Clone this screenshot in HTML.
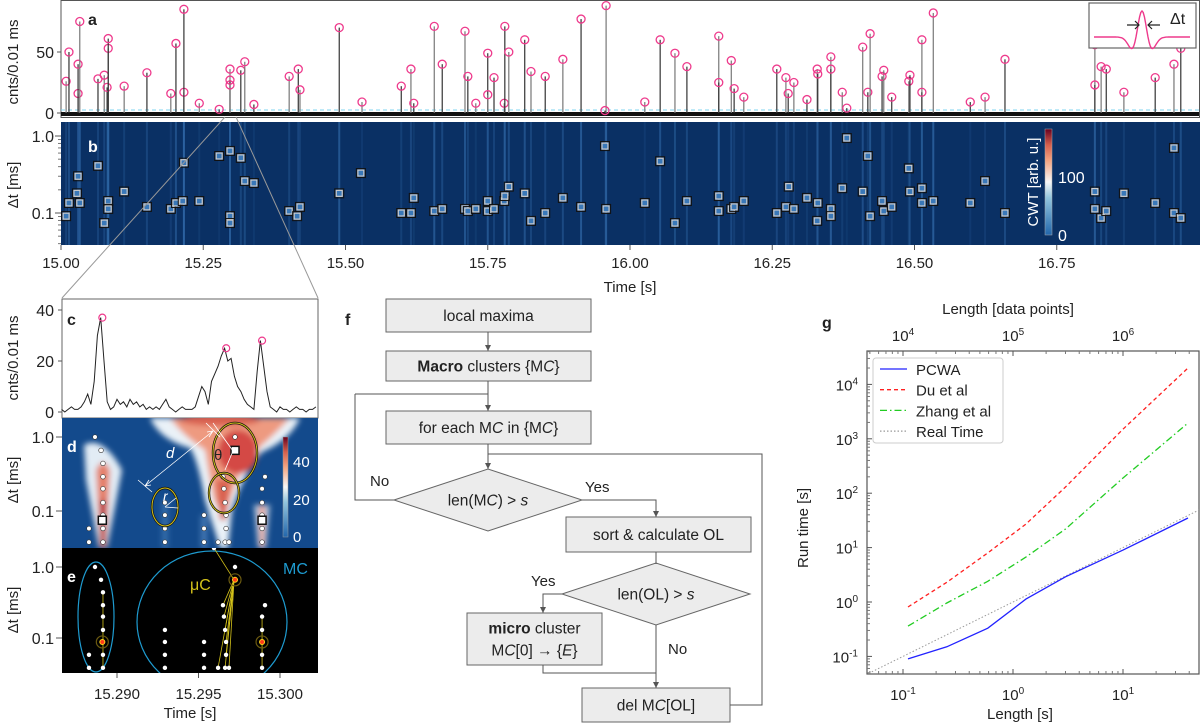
<!DOCTYPE html>
<html><head><meta charset="utf-8"><style>
html,body{margin:0;padding:0;background:#fff;}
svg{display:block;font-family:"Liberation Sans",sans-serif;}
</style></head><body>
<svg id="fig" width="1200" height="723" viewBox="0 0 1200 723" xmlns="http://www.w3.org/2000/svg">
<defs>
<linearGradient id="cwtbar" x1="0" y1="1" x2="0" y2="0">
<stop offset="0" stop-color="#2166ac"/><stop offset="0.35" stop-color="#92c5de"/><stop offset="0.5" stop-color="#f7f7f7"/><stop offset="0.7" stop-color="#f4a582"/><stop offset="0.85" stop-color="#d6604d"/><stop offset="1" stop-color="#67001f"/></linearGradient>
<filter id="blur"><feGaussianBlur stdDeviation="3"/></filter>
<clipPath id="clipD"><rect x="62" y="418" width="256" height="130"/></clipPath>
<clipPath id="clipE"><rect x="62" y="548" width="256" height="125"/></clipPath>
<clipPath id="clipG"><rect x="867" y="351" width="332" height="323"/></clipPath>
</defs>
<g id="layer"></g>
</svg>
<script>
// ---------- Panel a/b data ----------
const peakTimes=[15.009,15.014,15.030,15.030,15.033,15.065,15.076,15.081,15.083,15.083,15.111,15.151,15.193,15.202,15.216,15.216,15.243,15.278,15.297,15.297,15.297,15.316,15.323,15.339,15.401,15.417,15.420,15.489,15.529,15.598,15.615,15.620,15.656,15.670,15.710,15.715,15.729,15.750,15.750,15.761,15.779,15.780,15.787,15.815,15.826,15.851,15.882,15.914,15.958,15.956,16.026,16.053,16.079,16.100,16.156,16.156,16.178,16.183,16.200,16.258,16.274,16.278,16.288,16.311,16.329,16.330,16.353,16.353,16.373,16.381,16.409,16.418,16.422,16.443,16.446,16.460,16.490,16.492,16.513,16.513,16.533,16.598,16.624,16.659,16.817,16.817,16.828,16.837,16.868,16.923,16.956,16.968];
const peakCounts=[26,50,16,40,75,28,31,21,53,61,22,33,16,57,17,85,8,3,36,27,23,35,42,7,30,36,19,70,9,22,36,8,71,40,67,30,8,49,15,29,8,71,50,60,34,30,44,77,88,2,9,60,49,38,63,25,43,20,13,36,29,16,25,11,36,32,46,36,17,4,54,17,65,30,35,13,26,31,60,17,82,9,13,44,56,23,38,36,17,29,40,53];
const sqTimes=[15.009,15.014,15.028,15.030,15.033,15.065,15.076,15.083,15.083,15.111,15.151,15.193,15.202,15.214,15.216,15.243,15.278,15.297,15.316,15.323,15.339,15.297,15.297,15.401,15.415,15.420,15.489,15.527,15.598,15.615,15.620,15.656,15.670,15.710,15.715,15.729,15.750,15.750,15.761,15.779,15.780,15.787,15.815,15.826,15.851,15.882,15.914,15.956,15.958,16.026,16.053,16.079,16.100,16.156,16.156,16.178,16.183,16.200,16.258,16.274,16.279,16.288,16.311,16.329,16.330,16.353,16.353,16.373,16.381,16.409,16.418,16.422,16.443,16.446,16.460,16.490,16.492,16.513,16.513,16.533,16.598,16.624,16.659,16.817,16.817,16.828,16.837,16.868,16.923,16.956,16.956,16.968];
const sqDt=[0.091,0.135,0.18,0.30,0.135,0.41,0.074,0.143,0.113,0.19,0.12,0.113,0.135,0.143,0.45,0.143,0.55,0.64,0.52,0.26,0.245,0.091,0.074,0.106,0.091,0.12,0.18,0.33,0.1,0.1,0.157,0.106,0.113,0.113,0.106,0.113,0.143,0.106,0.113,0.143,0.166,0.22,0.18,0.079,0.1,0.157,0.12,0.74,0.113,0.135,0.47,0.074,0.143,0.166,0.106,0.113,0.12,0.143,0.1,0.12,0.22,0.113,0.157,0.079,0.135,0.113,0.091,0.21,0.94,0.19,0.55,0.091,0.143,0.106,0.12,0.38,0.19,0.21,0.135,0.143,0.135,0.26,0.1,0.19,0.113,0.086,0.106,0.18,0.135,0.7,0.1,0.086];
const timeTicks=[15.00,15.25,15.50,15.75,16.00,16.25,16.50,16.75];
const countTicksA=[0,50];
// ---------- Panel c/d/e data ----------
const traceStart=15.2866, traceStep=0.0002;
const traceCounts=[1,0,1,2,1,1,2,4,7,3,12,30,37,20,4,1,2,5,3,4,2,5,3,4,2,3,1,2,1,2,1,3,5,2,1,0,1,2,1,1,1,2,6,10,8,3,12,15,18,22,25,20,21,14,10,8,5,3,2,1,16,28,18,8,2,1,0,2,1,1,0,1,2,1,1,0,1,1,2];
const cPeakT=[15.2891,15.2967,15.2989];
const cPeakV=[37,25,28];
const zoomTicks=[15.290,15.295,15.300];
const countTicksC=[0,20,40];
const dotT=[15.28865,15.28902,15.28914,15.28914,15.28914,15.28914,15.28914,15.28914,15.28914,15.28828,15.28828,15.29294,15.29294,15.29294,15.29294,15.29534,15.29534,15.29534,15.29595,15.29724,15.2965,15.29656,15.29663,15.29669,15.29669,15.2962,15.29663,15.29687,15.29908,15.2989,15.2989,15.2989,15.2989,15.2989];
const dotDt=[1.0,0.66,0.44,0.29,0.2,0.13,0.088,0.058,0.038,0.058,0.038,0.13,0.088,0.058,0.038,0.088,0.058,0.038,1.85,1.0,0.29,0.2,0.13,0.088,0.058,0.038,0.038,0.038,0.29,0.2,0.13,0.088,0.058,0.038];
const sqDT=[15.2891,15.29724,15.2989];
const sqDV=[0.075,0.66,0.075];
// ---------- Panel g data ----------
const lenS=[0.111,0.25,0.59,1.31,3.0,10,39];
const pcwa=[0.09,0.15,0.33,1.13,2.9,9,35];
const du=[0.81,2.3,8,27,130,1500,20000];
const zhang=[0.36,0.96,2.4,6.7,22,190,1950];

const NS="http://www.w3.org/2000/svg";
const root=document.getElementById('layer');
function mk(tag,attrs,parent,text){const e=document.createElementNS(NS,tag);for(const k in attrs)e.setAttribute(k,attrs[k]);if(text!==undefined)e.textContent=text;(parent||root).appendChild(e);return e;}

const xA=t=>61+(t-15)*569;
const yA=v=>113-v*1.22;
const yB=d=>136+(0-Math.log10(d))*77;
const xC=t=>117+(t-15.29)*16300;
const yC=v=>412-v*2.55;
const yD=d=>437-Math.log10(d)*74;
const yE=d=>567-Math.log10(d)*71;
const xG=s=>1013+Math.log10(s)*110;
const yG=r=>602-Math.log10(r)*54.4;

// ===== Panel a =====
let g=mk('g',{});

let r=mk('rect',{x:61,y:0.5,width:1138.5,height:117,fill:'#fff',stroke:'#555','stroke-width':1},g);

let dl=mk('line',{x1:61,x2:1199,y1:yA(2.5),y2:yA(2.5),stroke:'#7fd6f2','stroke-dasharray':'4,3','stroke-width':1},g);

let bl=mk('rect',{x:61,y:112,width:1138,height:4,fill:'#111'},g);

peakTimes.forEach((t,i)=>{
  const x=xA(t),y=yA(peakCounts[i]);
  const l=mk('line',{x1:x,x2:x,y1:113,y2:y,stroke:i%2?'#333':'#777','stroke-width':1.2},g);
  
  const c=mk('circle',{cx:x,cy:y,r:4,fill:'none',stroke:'#ee3a8c','stroke-width':1.3},g);
  
});
countTicksA.forEach(v=>{
  const tl=mk('text',{x:54,y:yA(v)+6,'text-anchor':'end','font-size':16,fill:'#222'},g,String(v));
  
  mk('line',{x1:57,x2:61,y1:yA(v),y2:yA(v),stroke:'#555'},g);
});
let ta=mk('text',{x:88,y:25,'font-size':16,'font-weight':'bold',fill:'#222'},g,'a');

let yla=mk('text',{x:18,y:62,'font-size':15,fill:'#222','text-anchor':'middle',transform:'rotate(-90 18 62)'},g,'cnts/0.01 ms');

let ins=mk('g',{},g);
mk('rect',{x:1089,y:3,width:107,height:45,fill:'#fff',stroke:'#666','stroke-width':1.2},ins);
let wp='';for(let k=0;k<=80;k++){const u=(k-40)/5;const v=(1-u*u)*Math.exp(-u*u/2);wp+=(k?'L':'M')+(1094+k*1.2).toFixed(1)+','+(37-v*26).toFixed(1);}
mk('path',{d:wp,fill:'none',stroke:'#ee3a8c','stroke-width':1.4},ins);
mk('path',{d:'M1127,25 L1139,25 M1135,21 L1139,25 L1135,29 M1160,25 L1148,25 M1152,21 L1148,25 L1152,29',stroke:'#222','stroke-width':1.2,fill:'none'},ins);
mk('text',{x:1170,y:24,'font-size':16,fill:'#222'},ins,'Δt');

// ===== Panel b =====
g=mk('g',{});
r=mk('rect',{x:61,y:122,width:1139,height:123,fill:'#0a3064'},g);

peakTimes.forEach((t,i)=>{
  const s=mk('rect',{x:xA(t)-1,y:122,width:2,height:123,fill:'#3f7fc2',opacity:Math.min(0.55,0.08+peakCounts[i]/180)},g);
  
});
sqTimes.forEach((t,i)=>{
  const x=xA(t),y=yB(sqDt[i]);
  mk('rect',{x:x-4.5,y:y-4.5,width:9,height:9,fill:'none',stroke:'#111','stroke-width':1},g);
  const q=mk('rect',{x:x-3,y:y-3,width:6,height:6,fill:'#3a78b8',stroke:'#ccc','stroke-width':1.2},g);
  
});
[1.0,0.1].forEach(d=>{
  const tl=mk('text',{x:54,y:yB(d)+6,'text-anchor':'end','font-size':16,fill:'#222'},g,d.toFixed(1));
  
  mk('line',{x1:55,x2:61,y1:yB(d),y2:yB(d),stroke:'#555'},g);
});
[0.04,0.05,0.06,0.07,0.08,0.09,0.2,0.3,0.4,0.5,0.6,0.7,0.8,0.9].forEach(d=>mk('line',{x1:58,x2:61,y1:yB(d),y2:yB(d),stroke:'#777'},g));
let tb=mk('text',{x:88,y:152,'font-size':16,'font-weight':'bold',fill:'#fff'},g,'b');

let ylb=mk('text',{x:18,y:185,'font-size':15,fill:'#222','text-anchor':'middle',transform:'rotate(-90 18 185)'},g,'Δt [ms]');

timeTicks.forEach(t=>{
  const tl=mk('text',{x:xA(t),y:268,'text-anchor':'middle','font-size':15,fill:'#222'},g,t.toFixed(2));
  
  mk('line',{x1:xA(t),x2:xA(t),y1:245,y2:250,stroke:'#555'},g);
});
let xlb=mk('text',{x:630,y:292,'text-anchor':'middle','font-size':15,fill:'#222'},g,'Time [s]');

let cb=mk('g',{},g);
mk('rect',{x:1045,y:129,width:7,height:106,fill:'url(#cwtbar)',stroke:'#aaa','stroke-width':0.5},cb);
mk('text',{x:1058,y:183,'font-size':16,fill:'#fff'},cb,'100');
mk('text',{x:1058,y:241,'font-size':16,fill:'#fff'},cb,'0');
mk('text',{x:1038,y:182,'font-size':15,fill:'#fff','text-anchor':'middle',transform:'rotate(-90 1038 182)'},cb,'CWT [arb. u.]');
let zl=mk('path',{d:'M225,117 L62,298 M236,117 L318,298',stroke:'#999','stroke-width':1,fill:'none'});


// ===== Panel c =====
g=mk('g',{});
mk('rect',{x:62,y:299,width:256,height:119,fill:'#fff',stroke:'#666'},g);
let tp='';traceCounts.forEach((v,i)=>{tp+=(i?'L':'M')+xC(traceStart+i*traceStep).toFixed(1)+','+yC(v).toFixed(1);});
let tr=mk('path',{d:tp,fill:'none',stroke:'#222','stroke-width':1},g);

cPeakT.forEach((t,i)=>{const c=mk('circle',{cx:xC(t),cy:yC(cPeakV[i]),r:3.5,fill:'none',stroke:'#ee3a8c','stroke-width':1.2},g);
  });
countTicksC.forEach(v=>{const tl=mk('text',{x:54,y:yC(v)+6,'text-anchor':'end','font-size':16,fill:'#222'},g,String(v));
  mk('line',{x1:58,x2:62,y1:yC(v),y2:yC(v),stroke:'#555'},g);});
let tc=mk('text',{x:67,y:325,'font-size':16,'font-weight':'bold',fill:'#222'},g,'c');

let ylc=mk('text',{x:18,y:358,'font-size':15,fill:'#222','text-anchor':'middle',transform:'rotate(-90 18 358)'},g,'cnts/0.01 ms');


// ===== Panel d =====
g=mk('g',{});
mk('rect',{x:62,y:418,width:256,height:130,fill:'#134a8c'},g);
let hm=mk('g',{'clip-path':'url(#clipD)',filter:'url(#blur)'},g);

mk('path',{d:'M84,445 Q103,435 122,470 L107,548 L99,548 L86,480 Z',fill:'#e2ecf5'},hm);
mk('path',{d:'M96,470 Q103,455 110,470 L106,548 L100,548 Z',fill:'#e4806a'},hm);
mk('path',{d:'M100,500 L106,500 L105,548 L101,548 Z',fill:'#b2182b'},hm);
mk('path',{d:'M150,418 L300,418 Q290,440 262,452 Q245,470 232,510 L228,548 L220,548 L205,500 Q198,460 190,448 Q160,440 150,418 Z',fill:'#eaf2f8'},hm);
mk('path',{d:'M170,418 L290,418 Q270,440 250,455 Q240,470 230,500 L224,520 L214,500 Q208,470 205,450 Q185,438 170,418 Z',fill:'#ee9a80'},hm);
mk('ellipse',{cx:238,cy:452,rx:20,ry:22,fill:'#d44a45'},hm);
mk('ellipse',{cx:220,cy:420,rx:40,ry:6,fill:'#d9604f'},hm);
mk('path',{d:'M216,480 L230,480 L226,520 L220,520 Z',fill:'#d9604f'},hm);
mk('path',{d:'M254,505 L270,505 L266,548 L258,548 Z',fill:'#dde9f3',opacity:0.8},hm);
mk('path',{d:'M259,505 L265,505 L264,548 L260,548 Z',fill:'#f0a090'},hm);
mk('rect',{x:162,y:500,width:6,height:48,fill:'#4f86c0',opacity:0.6},hm);
mk('rect',{x:201,y:515,width:6,height:33,fill:'#6a9bd0',opacity:0.6},hm);
let cbD=mk('g',{},g);
mk('rect',{x:283,y:437,width:5,height:100,fill:'url(#cwtbar)',stroke:'#999','stroke-width':0.5},cbD);
[['40',462],['20',500],['0',537]].forEach(a=>mk('text',{x:293,y:a[1]+5,'font-size':15,fill:'#fff'},cbD,a[0]));
[1.0,0.1].forEach(d=>{const tl=mk('text',{x:54,y:yD(d)+6,'text-anchor':'end','font-size':16,fill:'#222'},g,d.toFixed(1));
  mk('line',{x1:56,x2:62,y1:yD(d),y2:yD(d),stroke:'#555'},g);});
dotT.forEach((t,i)=>{const y=yD(dotDt[i]);if(y>548||y<418)return;const c=mk('circle',{cx:xC(t),cy:y,r:2.3,fill:'#fff',stroke:'#333','stroke-width':0.6},g);
  });
sqDT.forEach((t,i)=>{const q=mk('rect',{x:xC(t)-4,y:yD(sqDV[i])-4,width:8,height:8,fill:'#fff',stroke:'#111','stroke-width':1.5},g);
  });
let ann=mk('g',{},g);
[[235,453,22,30],[224,493,15,20],[165,507,13,19]].forEach(a=>{
  mk('ellipse',{cx:a[0],cy:a[1],rx:a[2],ry:a[3],fill:'none',stroke:'#111','stroke-width':2.4},ann);
  mk('ellipse',{cx:a[0],cy:a[1],rx:a[2],ry:a[3],fill:'none',stroke:'#d4c21a','stroke-width':1},ann);});
mk('path',{d:'M145,486 L213,431 M145,486 l4,-6 M145,486 l6,-1 M213,431 l-6,1 M213,431 l-4,6 M138,480 L152,492 M206,423 L220,437 M165,507 L176,498 M165,507 L178,508 M213,423 L233,451 M225,470 L233,451',stroke:'#fff','stroke-width':0.8,fill:'none'},ann);
mk('text',{x:166,y:458,'font-size':15,'font-style':'italic',fill:'#fff'},ann,'d');
mk('text',{x:163,y:501,'font-size':14,'font-style':'italic',fill:'#fff'},ann,'r');
mk('text',{x:214,y:460,'font-size':15,fill:'#222'},ann,'θ');
let td=mk('text',{x:67,y:452,'font-size':16,'font-weight':'bold',fill:'#fff'},g,'d');

let yld=mk('text',{x:18,y:480,'font-size':15,fill:'#222','text-anchor':'middle',transform:'rotate(-90 18 480)'},g,'Δt [ms]');


// ===== Panel e =====
g=mk('g',{});
mk('rect',{x:62,y:548,width:256,height:125,fill:'#000'},g);
let eg=mk('g',{'clip-path':'url(#clipE)'},g);
let e1=mk('ellipse',{cx:96,cy:617,rx:18,ry:55,fill:'none',stroke:'#1e9bd0','stroke-width':1.2},eg);

let e2=mk('ellipse',{cx:212,cy:622,rx:75,ry:71,fill:'none',stroke:'#1e9bd0','stroke-width':1.2},eg);

const muX=xC(15.29718),muY=yE(0.66);
dotT.forEach((t,i)=>{if(t>15.2959&&t<15.2970){const l=mk('line',{x1:xC(t),y1:yE(dotDt[i]),x2:muX,y2:muY,stroke:'#d4c21a','stroke-width':0.8},eg);
  }});
mk('line',{x1:xC(15.28914),x2:xC(15.28914),y1:yE(0.44),y2:yE(0.038),stroke:'#d4c21a','stroke-width':0.8},eg);
mk('line',{x1:xC(15.2989),x2:xC(15.2989),y1:yE(0.2),y2:yE(0.038),stroke:'#d4c21a','stroke-width':0.8},eg);
dotT.forEach((t,i)=>{const c=mk('circle',{cx:xC(t),cy:yE(dotDt[i]),r:2.2,fill:'#fff'},eg);
  });
sqDT.forEach((t,i)=>{const x=xC(t),y=yE(i==1?0.66:0.088);
  mk('circle',{cx:x,cy:y,r:6,fill:'none',stroke:'#6b5a10','stroke-width':1.2},eg);
  const c=mk('circle',{cx:x,cy:y,r:2.5,fill:'#ff3a1a',stroke:'#ffd21a','stroke-width':1},eg);
  });
mk('text',{x:190,y:590,'font-size':16,fill:'#d4c21a'},g,'μC');
mk('text',{x:283,y:574,'font-size':16,fill:'#1e9bd0'},g,'MC');
[1.0,0.1].forEach(d=>{const tl=mk('text',{x:54,y:yE(d)+6,'text-anchor':'end','font-size':16,fill:'#222'},g,d.toFixed(1));
  mk('line',{x1:56,x2:62,y1:yE(d),y2:yE(d),stroke:'#555'},g);});
let te=mk('text',{x:67,y:582,'font-size':16,'font-weight':'bold',fill:'#fff'},g,'e');

let yle=mk('text',{x:18,y:610,'font-size':15,fill:'#222','text-anchor':'middle',transform:'rotate(-90 18 610)'},g,'Δt [ms]');

zoomTicks.forEach(t=>{const tl=mk('text',{x:xC(t),y:699,'text-anchor':'middle','font-size':15,fill:'#222'},g,t.toFixed(3));
  mk('line',{x1:xC(t),x2:xC(t),y1:673,y2:678,stroke:'#555'},g);});
let xle=mk('text',{x:190,y:718,'text-anchor':'middle','font-size':15,fill:'#222'},g,'Time [s]');


// ===== Panel g =====
g=mk('g',{});
mk('rect',{x:867,y:351,width:332,height:323,fill:'#fff',stroke:'#555','stroke-width':1.2},g);
[-1,0,1].forEach(e=>{const x=xG(Math.pow(10,e));
  const tl=mk('text',{x:x,y:700,'text-anchor':'middle','font-size':15,fill:'#222'},g,'10');mk('tspan',{dy:-6,'font-size':10},tl,String(e));
  
  mk('line',{x1:x,x2:x,y1:674,y2:669,stroke:'#555'},g);
  const tt=mk('text',{x:x,y:341,'text-anchor':'middle','font-size':15,fill:'#222'},g,'10');mk('tspan',{dy:-6,'font-size':10},tt,String(e+5));
  
  mk('line',{x1:x,x2:x,y1:351,y2:356,stroke:'#555'},g);
});
for(let e=-2;e<=1;e++)for(let m=2;m<=9;m++){const x=xG(m*Math.pow(10,e));if(x>867&&x<1199){mk('line',{x1:x,x2:x,y1:674,y2:671,stroke:'#777'},g);mk('line',{x1:x,x2:x,y1:351,y2:354,stroke:'#777'},g);}}
[-1,0,1,2,3,4].forEach(e=>{const y=yG(Math.pow(10,e));
  const tl=mk('text',{x:858,y:y+6,'text-anchor':'end','font-size':15,fill:'#222'},g,'10');mk('tspan',{dy:-6,'font-size':10},tl,String(e));
  
  mk('line',{x1:867,x2:872,y1:y,y2:y,stroke:'#555'},g);});
for(let e=-2;e<=4;e++)for(let m=2;m<=9;m++){const y=yG(m*Math.pow(10,e));if(y>351&&y<674)mk('line',{x1:867,x2:870,y1:y,y2:y,stroke:'#777'},g);}
let gc=mk('g',{'clip-path':'url(#clipG)'},g);
let rt=mk('line',{x1:xG(0.04),y1:yG(0.04),x2:xG(60),y2:yG(60),stroke:'#999','stroke-width':1,'stroke-dasharray':'1.5,2'},gc);

function series(vals,col,dash,name){let p='';lenS.forEach((s,i)=>{p+=(i?'L':'M')+xG(s).toFixed(1)+','+yG(vals[i]).toFixed(1);});
  const l=mk('path',{d:p,fill:'none',stroke:col,'stroke-width':1.3,'stroke-dasharray':dash},gc);
  }
series(pcwa,'#2222ff','none','pcwa-line');
series(du,'#ff2020','4,3','du-line');
series(zhang,'#22cc22','7,3,1.5,3','zhang-line');
let lg=mk('g',{},g);
mk('rect',{x:873,y:358,width:130,height:85,rx:3,fill:'#fff',stroke:'#ccc'},lg);
[['PCWA','#2222ff','none'],['Du et al','#ff2020','4,3'],['Zhang et al','#22cc22','7,3,1.5,3'],['Real Time','#999','1.5,2']].forEach((a,i)=>{
  const y=369+i*20.7;const le=mk('g',{},lg);
  
  mk('line',{x1:880,x2:907,y1:y,y2:y,stroke:a[1],'stroke-width':1.3,'stroke-dasharray':a[2]},le);
  mk('text',{x:916,y:y+6,'font-size':15,fill:'#222'},le,a[0]);});
let tg=mk('text',{x:822,y:328,'font-size':16,'font-weight':'bold',fill:'#222'},g,'g');

let xtg=mk('text',{x:1008,y:314,'text-anchor':'middle','font-size':15,fill:'#222'},g,'Length [data points]');

let xbg=mk('text',{x:1020,y:719,'text-anchor':'middle','font-size':15,fill:'#222'},g,'Length [s]');

let ylg=mk('text',{x:808,y:528,'font-size':15,fill:'#222','text-anchor':'middle',transform:'rotate(-90 808 528)'},g,'Run time [s]');


// ===== Panel f flowchart =====
g=mk('g',{});
let tf=mk('text',{x:345,y:325,'font-size':16,'font-weight':'bold',fill:'#222'},g,'f');

const st={fill:'#ececec',stroke:'#666','stroke-width':1};
function box(x,y,w,h,name,lines){const b=mk('g',{},g);
  mk('rect',Object.assign({x:x,y:y,width:w,height:h},st),b);
  lines.forEach((ln,i)=>{const t=mk('text',{x:x+w/2,y:y+h/2+5.5+(i-(lines.length-1)/2)*22,'text-anchor':'middle','font-size':15.5,fill:'#222'},b);t.innerHTML=ln;});return b;}
box(386,299,205,33,'local-maxima-box',['local maxima']);
box(386,351,205,30,'macro-clusters-box',['<tspan font-weight="bold">Macro</tspan> clusters {M<tspan font-style="italic">C</tspan>}']);
box(386,411,205,33,'for-each-box',['for each M<tspan font-style="italic">C</tspan> in {M<tspan font-style="italic">C</tspan>}']);
box(566,517,185,35,'sort-calc-box',['sort &amp; calculate OL']);
box(467,613,135,52,'micro-cluster-box',['<tspan font-weight="bold">micro</tspan> cluster','M<tspan font-style="italic">C</tspan>[0] → {<tspan font-style="italic">E</tspan>}']);
box(582,688,148,34,'del-box',['del M<tspan font-style="italic">C</tspan>[OL]']);
function dia(cx,cy,hw,hh,name,html){const b=mk('g',{},g);
  mk('path',Object.assign({d:`M${cx-hw},${cy} L${cx},${cy-hh} L${cx+hw},${cy} L${cx},${cy+hh} Z`},st),b);
  const t=mk('text',{x:cx,y:cy+5.5,'text-anchor':'middle','font-size':15.5,fill:'#222'},b);t.innerHTML=html;}
dia(488,500,94,31,'len-mc-decision','len(M<tspan font-style="italic">C</tspan>) &gt; <tspan font-style="italic">s</tspan>');
dia(656,594,94,31,'len-ol-decision','len(OL) &gt; <tspan font-style="italic">s</tspan>');
let ar=mk('path',{d:'M488,332 L488,351 M488,381 L488,411 M355,394 L488,394 M355,394 L355,500 L394,500 M488,444 L488,469 M488,454 L762,454 L762,705 L730,705 M582,500 L656,500 L656,517 M656,552 L656,564 M562,594 L543,594 L543,613 M543,665 L543,673 L656,673 M656,625 L656,688',fill:'none',stroke:'#555','stroke-width':1},g);

[[488,351],[488,411],[488,469],[656,517],[543,613],[656,688]].forEach(p=>mk('path',{d:`M${p[0]-3},${p[1]-6} L${p[0]+3},${p[1]-6} L${p[0]},${p[1]} Z`,fill:'#555'},g));
[['No',370,486],['Yes',585,492],['Yes',531,586],['No',668,654]].forEach(a=>{const t=mk('text',{x:a[1],y:a[2],'font-size':15,fill:'#222'},g,a[0]);
  });
</script>
</body></html>
